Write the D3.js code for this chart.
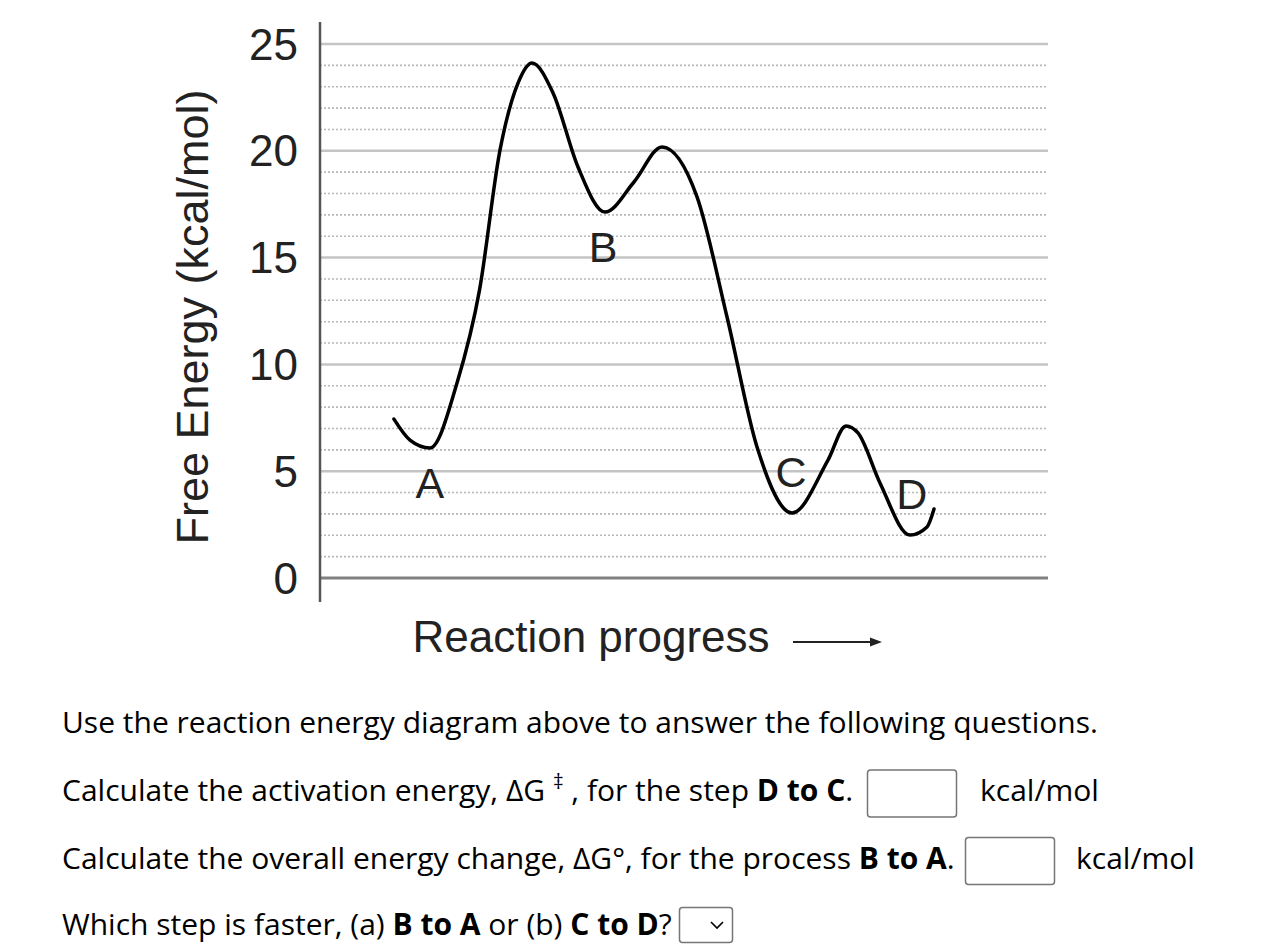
<!DOCTYPE html>
<html>
<head>
<meta charset="utf-8">
<script src="https://cdn.jsdelivr.net/npm/d3@7"></script>
<style>
  html, body { margin: 0; padding: 0; background: #fff; }
  svg { display: block; }
</style>
</head>
<body>
<svg id="chart" width="1280" height="950"></svg>
<script>
// ---- data ----
const progress = [10.16, 12.36, 15.11, 18.82, 21.91, 24.73, 27.20, 29.12, 32.01, 35.44, 39.15, 43.13, 46.98, 51.79, 55.91, 60.03, 64.84, 69.78, 72.25, 73.90, 76.92, 81.04, 83.38, 84.34];
const energy   = [7.44, 6.46, 6.09, 9.13, 13.48, 20.04, 23.17, 24.11, 22.71, 19.24, 17.13, 18.54, 20.18, 17.84, 12.22, 6.13, 3.04, 5.52, 7.12, 6.79, 4.45, 2.01, 2.39, 3.23];
const stateLabels = ["A", "B", "C", "D"];
const stateX = [15.1, 38.9, 64.7, 81.3];
const stateY = [3.75, 14.8, 4.26, 3.23];
const yTicks = [0, 5, 10, 15, 20, 25];
const yMinor = d3.range(0, 26);
const yTitle = "Free Energy (kcal/mol)";
const xTitle = "Reaction progress";

const svg = d3.select("#chart");
const x = d3.scaleLinear().domain([0, 100]).range([320, 1048]);
const y = d3.scaleLinear().domain([0, 25]).range([578, 44]);

// minor dotted gridlines
svg.append("g").selectAll("line")
  .data(yMinor.filter(v => v % 5 !== 0))
  .join("line")
  .attr("x1", x(0)).attr("x2", x(100))
  .attr("y1", d => y(d)).attr("y2", d => y(d))
  .attr("stroke", "#b8b8b8").attr("stroke-width", 1.6)
  .attr("stroke-dasharray", "2,2");

// major gridlines
svg.append("g").selectAll("line")
  .data(yTicks)
  .join("line")
  .attr("x1", x(0)).attr("x2", x(100))
  .attr("y1", d => y(d)).attr("y2", d => y(d))
  .attr("stroke", d => d === 0 ? "#808080" : "#c4c4c4")
  .attr("stroke-width", d => d === 0 ? 3 : 2.5);

// y axis line
svg.append("line")
  .attr("x1", 320).attr("x2", 320).attr("y1", 22).attr("y2", 602)
  .attr("stroke", "#555").attr("stroke-width", 2.5);

// tick labels
const yAxis = d3.axisLeft(y).tickValues(yTicks).tickSize(0).tickPadding(22);
const gy = svg.append("g").attr("transform", "translate(320,1)").call(yAxis);
gy.select(".domain").remove();
gy.selectAll("text")
  .attr("font-family", "'Liberation Sans', Arial, sans-serif")
  .attr("font-size", 44).attr("fill", "#222");

// y title
svg.append("text")
  .attr("transform", "translate(208,317) rotate(-90)")
  .attr("text-anchor", "middle")
  .attr("font-family", "'Liberation Sans', Arial, sans-serif")
  .attr("font-size", 45).attr("fill", "#222")
  .text(yTitle);

// x title + arrow
svg.append("text")
  .attr("x", 591).attr("y", 652)
  .attr("text-anchor", "middle")
  .attr("font-family", "'Liberation Sans', Arial, sans-serif")
  .attr("font-size", 44).attr("fill", "#222")
  .text(xTitle);
svg.append("line")
  .attr("x1", 793).attr("x2", 872).attr("y1", 642).attr("y2", 642)
  .attr("stroke", "#222").attr("stroke-width", 2);
svg.append("path")
  .attr("d", "M882,642 L870,637.5 L870,646.5 Z")
  .attr("fill", "#222");

// curve
const line = d3.line()
  .x((d, i) => x(progress[i]))
  .y((d, i) => y(energy[i]))
  .curve(d3.curveMonotoneX);
svg.append("path")
  .attr("d", line(energy))
  .attr("fill", "none").attr("stroke", "#000")
  .attr("stroke-width", 3.5).attr("stroke-linecap", "round")
  .attr("stroke-linejoin", "round");

// state labels
svg.append("g").selectAll("text")
  .data(stateLabels)
  .join("text")
  .attr("x", (d, i) => x(stateX[i]))
  .attr("y", (d, i) => y(stateY[i]))
  .attr("text-anchor", "middle")
  .attr("font-family", "'Liberation Sans', Arial, sans-serif")
  .attr("font-size", 43).attr("fill", "#222")
  .text(d => d);

// ---- question text ----
const qFont = "'Open Sans', sans-serif";
const qSize = 30;
function qline(yb, parts) {
  const t = svg.append("text").attr("x", 62).attr("y", yb)
    .attr("font-family", qFont).attr("font-size", qSize).attr("fill", "#000");
  parts.forEach(p => {
    const ts = t.append("tspan").text(p.t);
    if (p.b) ts.attr("font-weight", "bold");
    if (p.sup) ts.attr("font-size", 21).attr("dy", -12);
    if (p.down) ts.attr("dy", 12);
  });
  return t;
}
qline(733, [{t: "Use the reaction energy diagram above to answer the following questions."}]);
qline(801, [{t: "Calculate the activation energy, \u0394G "}, {t: "\u2021", sup: true}, {t: " , for the step ", down: true}, {t: "D to C", b: true}, {t: "."}]);
qline(869, [{t: "Calculate the overall energy change, \u0394G\u00b0, for the process "}, {t: "B to A", b: true}, {t: "."}]);
qline(935, [{t: "Which step is faster, (a) "}, {t: "B to A", b: true}, {t: " or (b) "}, {t: "C to D", b: true}, {t: "?"}]);

function box(x0, y0, w, h) {
  svg.append("rect").attr("x", x0).attr("y", y0).attr("width", w).attr("height", h)
    .attr("rx", 3).attr("fill", "#fff").attr("stroke", "#767676").attr("stroke-width", 1.5);
}
box(867.5, 770, 89, 47);
box(965.5, 837.5, 89, 47);
svg.append("text").attr("x", 980).attr("y", 801).attr("font-family", qFont).attr("font-size", qSize).text("kcal/mol");
svg.append("text").attr("x", 1076).attr("y", 869).attr("font-family", qFont).attr("font-size", qSize).text("kcal/mol");
box(679.5, 907.5, 53, 35);
svg.append("path").attr("d", "M711,922 L717,928 L723,922")
  .attr("fill", "none").attr("stroke", "#000").attr("stroke-width", 1.6);
</script>
</body>
</html>
